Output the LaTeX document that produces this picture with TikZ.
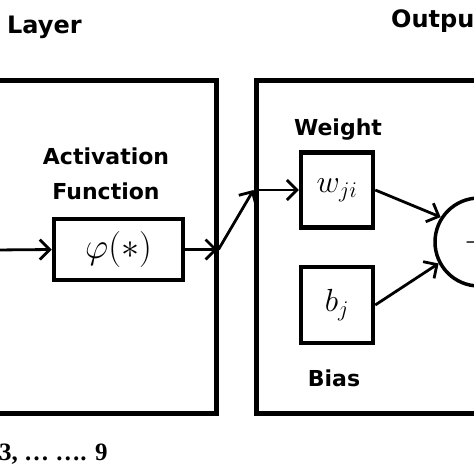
\RequirePackage{fix-cm}
\documentclass[tikz,border=0pt]{standalone}
\usepackage{amsmath}
\usepackage{fontspec}
\setmainfont{DejaVu Sans}
\newfontfamily\rangefont{Liberation Serif}
\usetikzlibrary{arrows.meta,positioning}

\tikzset{
    layerbox/.style={
        draw,
        line width=5pt
        },
    unitbox/.style={
        draw,
        line width=4.5pt,
        inner sep=0pt
        },
    lbl/.style={
        font=\bfseries\fontsize{22}{35}\selectfont,
        inner sep=0pt
        },
    conn/.style={
        -{Straight Barb[length=10pt,width=20pt,line width=2.8pt]},
        line width=2.8pt
        }
}

\begin{document}
\begin{tikzpicture}[x=1pt,y=-1pt]

\useasboundingbox (0,0) rectangle (474,474);

%layer boxes
\node[
        layerbox,
        minimum width=240pt,
        minimum height=333pt
        ] 
        (hid) at (96,246.5) {};
\node[
        layerbox,
        minimum width=440pt,
        minimum height=333pt
        ] 
        (out) at (476,246.5) {};

%titles
\node[
        lbl,
        font=\bfseries\fontsize{24}{30}\selectfont,
        anchor=base west
        ] 
        (hidtitle) at (7,33) {Layer};
\node[
        lbl,
        font=\bfseries\fontsize{24}{30}\selectfont,
        anchor=base west
        ] 
        (outtitle) at (391,27) {Output};

%activation function
\node[
        unitbox,
        minimum width=129pt,
        minimum height=61pt
        ] 
        (phi) at (118.5,249.5) {\fontsize{36}{40}\selectfont$\varphi(*)$};
\node[
        lbl,
        align=center,
        anchor=base
        ] 
        (actlbl) at (106,199) {Activation\\Function};

%weight and bias
\node[
        unitbox,
        minimum width=72pt,
        minimum height=75pt
        ] 
        (w) at (337,190) {\fontsize{32}{36}\selectfont$w_{ji}$};
\node[
        unitbox,
        minimum width=72pt,
        minimum height=76pt
        ] 
        (b) at (337,305) {\fontsize{32}{36}\selectfont$b_j$};
\node[
        lbl,
        anchor=base
        ] 
        (wlbl) at (338,135) {Weight};
\node[
        lbl,
        anchor=base
        ] 
        (blbl) at (334,386) {Bias};

%summation
\node[
        draw,
        circle,
        line width=3.5pt,
        minimum size=88pt,
        inner sep=0pt
        ] 
        (sum) at (479,242) {\fontsize{40}{44}\selectfont$+$};

%index range
\node[
        anchor=base west,
        inner sep=0pt,
        font=\rangefont\bfseries\fontsize{25}{28}\selectfont
        ] 
        (idx) at (-1,460) {3, \dots\ \dots. 9};

%connectors
\coordinate (in) at (-5,250);
\coordinate (hidout) at (hid.east |- phi.east);
\coordinate (outin) at (out.west |- w.west);
\draw[conn] (in) -- (phi.west);
\draw[conn] (phi.east) -- ([xshift=-1pt]hidout);
\draw[conn] (hidout) -- (outin);
\draw[conn] (outin) -- (w.west);
\draw[conn] (w.east) -- (sum.147);
\draw[conn] (b.east) -- (sum.208);

\end{tikzpicture}
\end{document}
